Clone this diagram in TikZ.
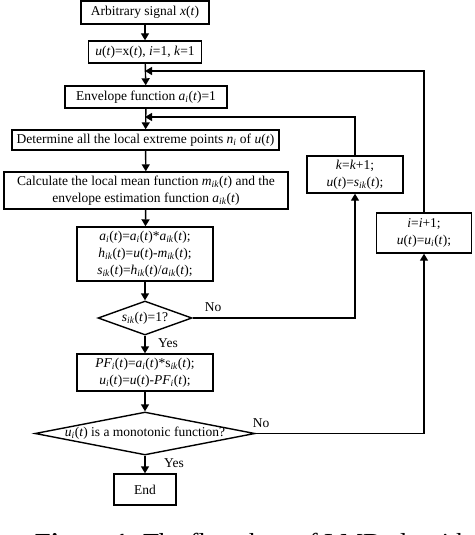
\documentclass[tikz,border=0pt]{standalone}
\usepackage{fontspec}
\setmainfont{Liberation Serif}
\usepackage{tikz}
\usetikzlibrary{arrows.meta,shapes.geometric,positioning}
\newcommand{\fsub}[2]{\textit{#1}\textsubscript{\textit{#2}}(\textit{t})}
\newcommand{\fplain}[1]{\textit{#1}(\textit{t})}
\tikzset{
  stepbox/.style={draw, line width=1.4pt, inner sep=1pt, align=center},
  decision/.style={draw, diamond, line width=1.4pt, inner sep=0pt},
  arrow/.style={line width=1.4pt, -{Triangle[length=7pt,width=8pt]}},
  tag/.style={inner sep=0pt}
}

\begin{document}
\begin{tikzpicture}[x=1pt, y=-1pt, font=\fontsize{13.5pt}{17pt}\selectfont]
\useasboundingbox (0,0) rectangle (474,535);
\clip (0,0) rectangle (474,535);

% Main column
\node[stepbox, minimum width=128pt, minimum height=23pt] (sig) at (145,12.5) {Arbitrary signal \textit{x}(\textit{t})};
\node[stepbox, minimum width=113pt, minimum height=22pt] (init) at (145,52) {\fplain{u}=x(\textit{t}), \textit{i}=1, \textit{k}=1};
\node[stepbox, minimum width=162pt, minimum height=22pt] (env) at (146,97) {Envelope function \fsub{a}{i}=1};
\node[stepbox, minimum width=267pt, minimum height=20pt] (ext) at (145.5,140) {Determine all the local extreme points \textit{n}\textsubscript{\textit{i}} of \fplain{u}};
\node[stepbox, minimum width=284pt, minimum height=37pt] (mean) at (146,190.5) {Calculate the local mean function \fsub{m}{ik} and the\\envelope estimation function \fsub{a}{ik}};
\node[stepbox, minimum width=136pt, minimum height=54pt] (upd) at (145,254) {\fsub{a}{i}=\fsub{a}{i}*\fsub{a}{ik};\\\fsub{h}{ik}=\fplain{u}-\fsub{m}{ik};\\\fsub{s}{ik}=\fsub{h}{ik}/\fsub{a}{ik};};
\node[decision, minimum width=94pt, minimum height=34pt] (d1) at (145,318) {\makebox[0pt]{\fsub{s}{ik}=1?}};
\node[stepbox, minimum width=136pt, minimum height=37pt] (pf) at (145,372.5) {\fsub{PF}{i}=\fsub{a}{i}*s\textsubscript{\textit{ik}}(\textit{t});\\\fsub{u}{i}=\fplain{u}-\fsub{PF}{i};};
\node[decision, minimum width=220pt, minimum height=43pt] (d2) at (145,433.5) {\makebox[0pt]{\fsub{u}{i} is a monotonic function?}};
\node[stepbox, minimum width=62pt, minimum height=31pt] (endbox) at (145,489.5) {End};

% Loop boxes
\node[stepbox, minimum width=96pt, minimum height=37pt] (kbox) at (355,174.5) {\textit{k}=\textit{k}+1;\\\fplain{u}=\fsub{s}{ik};};
\node[stepbox, minimum width=95pt, minimum height=40pt] (ibox) at (424,233) {\textit{i}=\textit{i}+1;\\\fplain{u}=\fsub{u}{i};};

% Labels
\node[tag] (no1) at (213,307) {No};
\node[tag] (yes1) at (168,343) {Yes};
\node[tag] (no2) at (261,423) {No};
\node[tag] (yes2) at (174,463) {Yes};

% Feedback entry points
\coordinate (fbi) at (145,71);
\coordinate (fbk) at (145,117);

% Connectors
\draw[arrow] (sig) -- (init);
\draw[arrow] (init) -- (env);
\draw[arrow] (env) -- (ext);
\draw[arrow] (ext) -- (mean);
\draw[arrow] (mean) -- (upd);
\draw[arrow] (upd) -- (d1);
\draw[arrow] (d1) -- (pf);
\draw[arrow] (pf) -- (d2);
\draw[arrow] (d2) -- (endbox);
\draw[arrow] (d1.east) -| (kbox.south);
\draw[arrow] (d2.east) -| (ibox.south);
\draw[arrow] (kbox.north) |- (fbk);
\draw[arrow] (ibox.north) |- (fbi);

% Caption (cut off at the bottom edge)
\node[tag, anchor=base west, font=\fontsize{26pt}{31pt}\selectfont] (caption) at (35,551) {\textbf{Figure 1.} The flowchart of LMD algorithm};
\end{tikzpicture}
\end{document}
